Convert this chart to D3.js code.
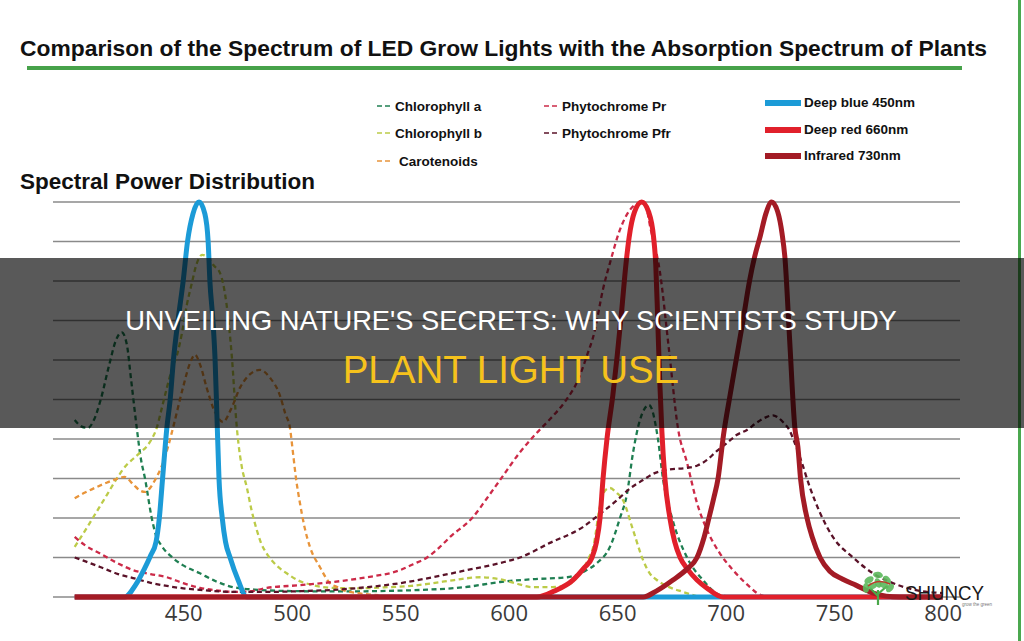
<!DOCTYPE html>
<html><head><meta charset="utf-8">
<script src="https://cdn.jsdelivr.net/npm/d3@7"></script>
<style>html,body{margin:0;padding:0;background:#fff;}svg{display:block;}</style>
</head><body>
<svg id="c" width="1024" height="641"></svg>
<script>
// ---------- DATA ----------
const xTicks = [450, 500, 550, 600, 650, 700, 750, 800];
const gridLevels = [0, 10, 20, 30, 40, 50, 60, 70, 80, 90, 100];

const dashedNames = ["Chlorophyll a", "Chlorophyll b", "Carotenoids", "Phytochrome Pr", "Phytochrome Pfr"];
const ledNames = ["Deep blue 450nm", "Deep red 660nm", "Infrared 730nm"];

// [wavelength nm, relative value %]
const chlorophyllA = [[400,44.8],[403,43.2],[406,42.8],[409,45],[412,50],[416,59],[419,65],[421.7,67],[424,64],[426,55],[428.6,42.8],[430.5,35],[432.4,30],[435.5,20],[437.5,15.5],[440,13],[445,10],[450,8],[457.7,6],[465,4],[473,2.5],[485,1.8],[500,1.5],[520,1.4],[540,1.5],[560,1.8],[580,2.5],[596,3.8],[611,4.5],[627,5],[635,6.5],[640.7,8.6],[646.7,12.7],[651.3,20],[654.5,26],[657.3,36.5],[660.5,44.8],[664.7,48.6],[668.8,40],[671.1,30],[675.3,20],[682.2,10],[689.5,4.3],[697.4,0.5],[705,0]];
const chlorophyllB = [[400,12.7],[405,17],[410,21.5],[415,26],[420,30.5],[424,33.5],[427,35],[430,36.5],[433,38],[435.5,40],[437.8,42.8],[440,47.5],[442.5,53],[445,58],[447,61],[449.5,67],[451.7,74],[454,79.5],[456,84],[458.7,86.6],[461.5,86],[464,84],[467,82],[470,74],[472.4,61],[474.7,43],[475.3,39.7],[477,33],[479.3,27.8],[481.5,22],[483.9,17],[486,13.5],[488.5,11],[493,8],[497.7,6],[503,4.2],[509.9,3],[519,2.3],[530,2.2],[545,2.5],[555,2.8],[565,3.5],[575,4.3],[586.8,5],[596,4.5],[603,3.5],[611,2.5],[620,2.5],[627,3],[633,6],[637,10],[639,12.7],[642,22.8],[644.5,27],[646.7,27.6],[649.5,26.5],[652.7,24.5],[657.3,17],[661.9,9.4],[665,6],[668.3,4.3],[674,2.5],[680.3,1.3],[688,0]];
const carotenoids = [[400,25],[405,26.5],[410,27.8],[415,29],[420,30],[423,30.4],[427,28.5],[430,27],[432.4,26.6],[435,27.8],[437,29.6],[440,33],[443,38],[445.3,42.8],[449.9,53],[453,59],[455.4,61.3],[458,58.5],[460.8,53],[464.5,47],[468.3,44.3],[472,47.5],[476.2,53],[481,56.5],[485.4,57.5],[490,55.5],[494.6,51],[497,46.5],[499.2,42.8],[500.6,36.5],[502,30],[503.8,23.8],[506,17.5],[508.4,12.7],[513,7.6],[517.6,3.5],[521,2.5],[525,1.5],[530,1],[540,0.5]];
const phytochromePr = [[400,15.2],[405,13],[411.7,11],[420,8.5],[426.9,6.8],[435,5.8],[442.5,5],[450,3.5],[457.7,2.3],[465,1.7],[473,1.3],[480,1.4],[488.5,2.3],[503.8,3],[519,3.8],[534.7,5],[549.9,6.8],[556,8.3],[562.4,10],[568,12.5],[573,15.2],[583.5,20.2],[590,25],[596,29.6],[605,36.5],[612,41],[619,45],[626,49.5],[632,55],[636,61],[639.5,67],[643.5,78],[646.7,84.6],[651.3,93],[655.9,98],[660.5,99.7],[663,99],[665.5,93],[669.7,82.3],[674,62],[678,42.8],[682.2,34],[686.8,23.8],[691.4,17],[697.4,11],[703.4,6.8],[711.2,2.5],[714.4,1],[720,0]];
const phytochromePfr = [[400,10],[405,9],[411.7,7.6],[420,5.8],[426.9,4.8],[435,3.6],[442.5,2.8],[450,2.2],[457.7,1.8],[473,1.3],[490,1.3],[505,1.5],[519,1.8],[535,2.5],[549.9,3.5],[565,5],[580.8,6.8],[596,8.6],[605.2,10],[619,13.7],[634.2,17.7],[642,21],[649.9,24.5],[656,27.5],[661.9,29.6],[667,31.3],[673,32.2],[682.2,32.7],[687,33.3],[691.4,34.7],[696,37],[700.6,39],[705,41],[709.8,42.3],[714,44],[719,45.6],[721.8,46],[724,45.5],[726.4,44.3],[729.6,42],[731.5,39.5],[734.2,35.5],[738.8,27.8],[743.5,21.3],[749.4,15.2],[758.7,10],[767.9,6],[775,4],[783.5,2.3],[790,1.5],[800,1]];

const blueLED = [[400,0],[423,0],[428,3],[432,7],[435,10.5],[437.5,14],[439,20],[440.5,30],[442.5,43],[444,50],[445.5,60],[447.6,70],[450,80],[452,90],[454.5,97],[457.3,100],[460,97],[461.5,90],[462.3,80],[463.7,70],[464.7,60],[465.6,45],[466.5,30],[468,20],[469.5,14],[471.6,10],[475.3,4.3],[479.4,0],[800,0]];
const redLED = [[400,0],[613,0],[621,1.5],[629.6,4.3],[635,7.5],[638.4,10],[640.5,14],[642.1,20],[643.5,30],[645.3,40],[648,51],[650,61],[652,72],[654,84],[655.5,91],[658,97.5],[661.3,100],[664.5,97.5],[666.8,91],[667.8,84],[668.7,70],[669.6,55],[670.6,42],[672,30],[674.3,20],[676.5,14],[679,10],[682.5,7],[686.8,4.3],[692,2],[698.8,0],[800,0]];
const infraredLED = [[400,0],[662,0],[668,1.5],[675.7,4.3],[682,7],[686.8,10],[690,15],[692.3,20],[694.5,25],[696.5,30],[699,41],[702,51],[705,60.5],[708,70],[711,80],[713.3,86],[716,91.5],[718.5,97],[721.2,100],[724,97.5],[726,92],[727.3,86],[729.5,65],[731.9,42.8],[733.3,38],[734.5,30],[737.5,20],[740,15],[743.5,10],[748,6.5],[754,4.5],[760,3],[768,1],[780,0],[800,0]];

// ---------- STYLE ----------
const dashedColors = ["#1f7f52", "#bccb48", "#e8943a", "#cc2a48", "#5a1228"];
const ledColors = ["#1c9bd7", "#e1202b", "#a31b25"];

const svg = d3.select("#c");
const x = d3.scaleLinear().domain([390, 808]).range([53, 960]);
const y = d3.scaleLinear().domain([0, 100]).range([597, 202]);

// right green border
svg.append("rect").attr("x", 1018).attr("y", 0).attr("width", 3).attr("height", 641).attr("fill", "#4ba84f");

// Title
svg.append("text").attr("x", 20).attr("y", 56)
  .attr("textLength", 967).attr("lengthAdjust", "spacingAndGlyphs")
  .style("font-family", "'Liberation Sans', Arial, sans-serif").style("font-weight", "bold").style("font-size", "21.5px").attr("fill", "#111")
  .text("Comparison of the Spectrum of LED Grow Lights with the Absorption Spectrum of Plants");
svg.append("rect").attr("x", 27).attr("y", 66).attr("width", 935).attr("height", 4).attr("fill", "#47a24a");

// Subtitle
svg.append("text").attr("x", 20).attr("y", 189)
  .style("font-family", "'Liberation Sans', Arial, sans-serif").style("font-weight", "bold").style("font-size", "22.5px").attr("fill", "#111")
  .text("Spectral Power Distribution");

// Legend
const legendFont = "'Liberation Sans', Arial, sans-serif";
const dashPos = [[377, 106], [377, 133], [377, 161], [544, 106], [544, 133]];
const lg = svg.append("g");
dashedNames.forEach((n, i) => {
  const [lx, ly] = dashPos[i];
  lg.append("line").attr("x1", lx).attr("x2", lx + 15).attr("y1", ly).attr("y2", ly)
    .attr("stroke", dashedColors[i]).attr("stroke-width", 2).attr("stroke-dasharray", "5,3").attr("opacity", 0.75);
  lg.append("text").attr("x", lx + 18 + (i === 2 ? 4 : 0)).attr("y", ly + 5)
    .style("font-family", legendFont).style("font-weight", "bold").style("font-size", "13.5px").attr("fill", "#111").text(n);
});
const swPos = [103, 130, 156];
ledNames.forEach((n, i) => {
  lg.append("rect").attr("x", 765).attr("y", swPos[i] - 3).attr("width", 36).attr("height", 6).attr("fill", ledColors[i]);
  lg.append("text").attr("x", 804).attr("y", swPos[i] + 4)
    .style("font-family", legendFont).style("font-weight", "bold").style("font-size", "13.5px").attr("fill", "#111").text(n);
});

// Grid
svg.append("g").selectAll("line").data(gridLevels).join("line")
  .attr("x1", x(390)).attr("x2", x(808)).attr("y1", d => y(d)).attr("y2", d => y(d))
  .attr("stroke", "#8a8a8a").attr("stroke-width", 1.6);

// X axis
const ax = svg.append("g").attr("transform", "translate(0,597)")
  .call(d3.axisBottom(x).tickValues(xTicks).tickSize(0).tickFormat(d3.format("d")));
ax.select(".domain").remove();
ax.selectAll("text").attr("y", 24).attr("dy", 0)
  .style("font-family", "'Open Sans', sans-serif").style("font-size", "22px").attr("fill", "#3a3a3a");

const line = d3.line().x(d => x(d[0])).y(d => y(d[1])).curve(d3.curveMonotoneX);

// dashed absorption curves
const dashedData = [chlorophyllA, chlorophyllB, carotenoids, phytochromePr, phytochromePfr];
svg.append("g").selectAll("path").data(dashedData).join("path")
  .attr("d", line).attr("fill", "none")
  .attr("stroke", (d, i) => dashedColors[i]).attr("stroke-width", 2.3).attr("stroke-dasharray", "5,3.5");

// LED curves
const ledData = [blueLED, redLED, infraredLED];
svg.append("g").selectAll("path").data(ledData).join("path")
  .attr("d", line).attr("fill", "none")
  .attr("stroke", (d, i) => ledColors[i]).attr("stroke-width", 5).attr("stroke-linejoin", "round");

// Logo
const logo = svg.append("g");
const leaves = [[-9,-8],[0,-13],[9,-8],[-12,0],[12,0],[-6,-2],[6,-3],[0,-5]];
logo.append("path").attr("d", "M878,605 L878,590 M878,596 L870,588 M878,594 L887,586")
  .attr("stroke", "#4aa84a").attr("stroke-width", 2.2).attr("fill", "none");
logo.selectAll("ellipse").data(leaves).join("ellipse")
  .attr("cx", d => 878 + d[0]).attr("cy", d => 588 + d[1]).attr("rx", 3.2).attr("ry", 5)
  .attr("transform", (d, i) => `rotate(${i * 40 - 120},${878 + d[0]},${588 + d[1]})`)
  .attr("fill", "#5cb85c").attr("opacity", 0.9);
logo.append("path").attr("d", "M868,586 Q878,578 890,584").attr("stroke", "#c0392b").attr("stroke-width", 1.5).attr("fill", "none");
logo.append("text").attr("x", 905).attr("y", 600).attr("textLength", 79).attr("lengthAdjust", "spacingAndGlyphs")
  .style("font-family", "'Liberation Sans', Arial, sans-serif").style("font-size", "20px").attr("fill", "#1a1a1a").text("SHUNCY");
logo.append("text").attr("x", 962).attr("y", 606)
  .style("font-family", "'Liberation Sans', Arial, sans-serif").style("font-size", "4.5px").attr("fill", "#777").text("grow the green");

// Overlay band
svg.append("rect").attr("x", 0).attr("y", 258).attr("width", 1024).attr("height", 170).attr("fill", "#000").attr("opacity", 0.65);
svg.append("text").attr("x", 511).attr("y", 330).attr("text-anchor", "middle")
  .style("font-family", "'Liberation Sans', Arial, sans-serif").style("font-size", "27.3px").attr("fill", "#ffffff")
  .text("UNVEILING NATURE'S SECRETS: WHY SCIENTISTS STUDY");
svg.append("text").attr("x", 511).attr("y", 383).attr("text-anchor", "middle")
  .style("font-family", "'Liberation Sans', Arial, sans-serif").style("font-size", "38.5px").attr("fill", "#f6c21c")
  .text("PLANT LIGHT USE");
</script>
</body></html>
